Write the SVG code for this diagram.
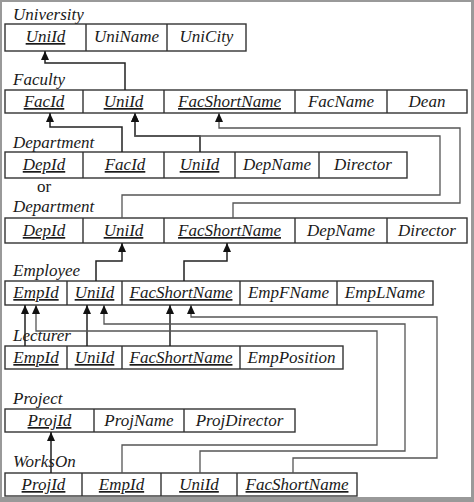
<svg xmlns="http://www.w3.org/2000/svg" width="474" height="502" viewBox="0 0 474 502">
<defs>
<style>
text{fill:#1a1a1a;font-style:italic;font-size:17px}
.cell{fill:#fff;stroke:#333;stroke-width:1.4}
.t{text-anchor:middle}
.k{text-decoration:underline}
.kd{text-decoration:underline dashed}
.c{fill:none;stroke:#222;stroke-width:1.5;marker-end:url(#ah)}
.c2{fill:none;stroke:#555;stroke-width:1.3;marker-end:url(#ah)}
</style>
<marker id="ah" markerUnits="userSpaceOnUse" markerWidth="9" markerHeight="8" refX="9" refY="4" orient="auto">
<path d="M0,0 L9,4 L0,8 z" fill="#111"/>
</marker>
</defs>
<rect x="0" y="0" width="474" height="502" fill="#999"/>
<rect x="2" y="2" width="469" height="495" fill="#fff"/>

<g id="university">
<text font-family="Liberation Serif" x="13" y="20">University</text>
<rect class="cell" x="5" y="24" width="241" height="27"/>
<path d="M86,24V51M167,24V51" stroke="#333" stroke-width="1.4"/>
<text font-family="Liberation Serif" class="t k" x="45.5" y="42">UniId</text>
<text font-family="Liberation Serif" class="t" x="126.5" y="42">UniName</text>
<text font-family="Liberation Serif" class="t" x="206.5" y="42">UniCity</text>
</g>

<g id="faculty">
<text font-family="Liberation Serif" x="13" y="85">Faculty</text>
<rect class="cell" x="5" y="90" width="462" height="23"/>
<path d="M83,90V113M164,90V113M295,90V113M387,90V113" stroke="#333" stroke-width="1.4"/>
<text font-family="Liberation Serif" class="t k" x="44" y="107">FacId</text>
<text font-family="Liberation Serif" class="t k" x="123.5" y="107">UniId</text>
<text font-family="Liberation Serif" class="t kd" x="229.5" y="107">FacShortName</text>
<text font-family="Liberation Serif" class="t" x="341" y="107">FacName</text>
<text font-family="Liberation Serif" class="t" x="427" y="107">Dean</text>
</g>

<g id="department1">
<text font-family="Liberation Serif" x="13" y="148">Department</text>
<rect class="cell" x="5" y="152" width="402" height="26"/>
<path d="M83,152V178M164,152V178M235,152V178M319,152V178" stroke="#333" stroke-width="1.4"/>
<text font-family="Liberation Serif" class="t k" x="44" y="170">DepId</text>
<text font-family="Liberation Serif" class="t k" x="125" y="170">FacId</text>
<text font-family="Liberation Serif" class="t k" x="199.5" y="170">UniId</text>
<text font-family="Liberation Serif" class="t" x="277" y="170">DepName</text>
<text font-family="Liberation Serif" class="t" x="363" y="170">Director</text>
</g>

<text font-family="Liberation Serif" x="37" y="192" style="font-style:normal">or</text>

<g id="department2">
<text font-family="Liberation Serif" x="13" y="212">Department</text>
<rect class="cell" x="5" y="218" width="462" height="25"/>
<path d="M83,218V243M164,218V243M295,218V243M387,218V243" stroke="#333" stroke-width="1.4"/>
<text font-family="Liberation Serif" class="t k" x="44" y="236">DepId</text>
<text font-family="Liberation Serif" class="t k" x="123.5" y="236">UniId</text>
<text font-family="Liberation Serif" class="t k" x="229.5" y="236">FacShortName</text>
<text font-family="Liberation Serif" class="t" x="341" y="236">DepName</text>
<text font-family="Liberation Serif" class="t" x="427" y="236">Director</text>
</g>

<g id="employee">
<text font-family="Liberation Serif" x="13" y="276">Employee</text>
<rect class="cell" x="5" y="281" width="428" height="24"/>
<path d="M67,281V305M122,281V305M240,281V305M337,281V305" stroke="#333" stroke-width="1.4"/>
<text font-family="Liberation Serif" class="t k" x="36" y="298">EmpId</text>
<text font-family="Liberation Serif" class="t k" x="94.5" y="298">UniId</text>
<text font-family="Liberation Serif" class="t k" x="181" y="298">FacShortName</text>
<text font-family="Liberation Serif" class="t" x="288.5" y="298">EmpFName</text>
<text font-family="Liberation Serif" class="t" x="385" y="298">EmpLName</text>
</g>

<g id="lecturer">
<text font-family="Liberation Serif" x="13" y="341">Lecturer</text>
<rect class="cell" x="5" y="346" width="338" height="23"/>
<path d="M67,346V369M122,346V369M240,346V369" stroke="#333" stroke-width="1.4"/>
<text font-family="Liberation Serif" class="t k" x="36" y="363">EmpId</text>
<text font-family="Liberation Serif" class="t k" x="94.5" y="363">UniId</text>
<text font-family="Liberation Serif" class="t k" x="181" y="363">FacShortName</text>
<text font-family="Liberation Serif" class="t" x="291.5" y="363">EmpPosition</text>
</g>

<g id="project">
<text font-family="Liberation Serif" x="13" y="404">Project</text>
<rect class="cell" x="5" y="409" width="290" height="23"/>
<path d="M94,409V432M184,409V432" stroke="#333" stroke-width="1.4"/>
<text font-family="Liberation Serif" class="t k" x="49.5" y="426">ProjId</text>
<text font-family="Liberation Serif" class="t" x="139" y="426">ProjName</text>
<text font-family="Liberation Serif" class="t" x="239.5" y="426">ProjDirector</text>
</g>

<g id="workson">
<text font-family="Liberation Serif" x="13" y="467">WorksOn</text>
<rect class="cell" x="5" y="473" width="352" height="23"/>
<path d="M82,473V496M161,473V496M237,473V496" stroke="#333" stroke-width="1.4"/>
<text font-family="Liberation Serif" class="t k" x="43.5" y="490">ProjId</text>
<text font-family="Liberation Serif" class="t k" x="121.5" y="490">EmpId</text>
<text font-family="Liberation Serif" class="t k" x="199" y="490">UniId</text>
<text font-family="Liberation Serif" class="t k" x="297" y="490">FacShortName</text>
</g>

<g id="connectors">
<path class="c" d="M125,90V63H45V51"/>
<path class="c" d="M122,152V127H50V113"/>
<path class="c" d="M200,152V136H135V113"/>
<path class="c2" d="M122,218V195H440V136H135V113"/>
<path class="c2" d="M233,218V203H460V128H219V113"/>
<path class="c" d="M96,281V261H122V243"/>
<path class="c" d="M184,281V261H227V243"/>
<path class="c" d="M25,346V305"/>
<path class="c" d="M87,346V305"/>
<path class="c" d="M170,346V305"/>
<path class="c2" d="M122,473V445H377V331H36V305"/>
<path class="c2" d="M200,473V451H405V324H104V305"/>
<path class="c2" d="M293,473V458H437V317H191V305"/>
<path class="c" d="M51,473V432"/>
</g>
</svg>
